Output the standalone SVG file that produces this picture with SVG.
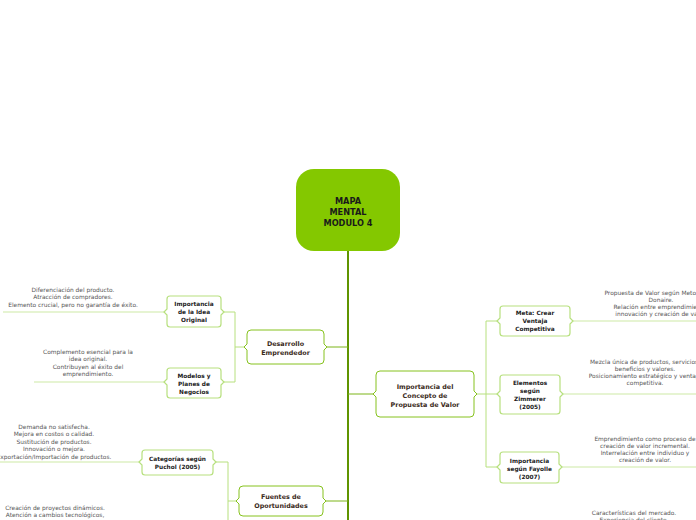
<svg xmlns="http://www.w3.org/2000/svg" width="696" height="520" viewBox="0 0 696 520">
<style>
.t{font-family:"DejaVu Sans",Verdana,sans-serif;font-weight:bold;fill:#1a1a1a;text-anchor:middle}
.t1{font-size:6.4px;fill:#3a2a1a}
.t2{font-size:5.8px}
.lf{font-family:"DejaVu Sans",Verdana,sans-serif;font-size:5.9px;fill:#555;text-anchor:middle}
.n{fill:#fff;stroke:#b7e07e;stroke-width:1.2}
.n1{fill:#fff;stroke:#86c21e;stroke-width:1}
.c0{fill:none;stroke:#5f9400;stroke-width:2}
.c1{fill:none;stroke:#7cb519;stroke-width:1}
.c2{fill:none;stroke:#b7e07e;stroke-width:1}
.c3{fill:none;stroke:#cde9a6;stroke-width:1.2}
</style>
<rect width="696" height="520" fill="#fff"/>
<g id="connectors">
<path class="c0" d="M348,251V520"/>
<path class="c1" d="M348,347H327M348,394H373M348,501H326"/>
<path class="c2" d="M244,347H235M235,312V382M235,312H224M235,382H224"/>
<path class="c2" d="M236,501H228M228,462V520M228,462H216"/>
<path class="c2" d="M477,394H486M486,321V467M486,321H497M486,394H497M486,467H497"/>
<path class="c3" d="M164,312H3M164,382H34M139,462H0M573,321H696M563,394H696M562,467H696"/>
</g>
<g id="root">
<rect x="296" y="169" width="104" height="82" rx="18" fill="#84c800"/>
<text class="t" font-size="8.2" x="348" y="204">MAPA</text>
<text class="t" font-size="8.2" x="348" y="215">MENTAL</text>
<text class="t" font-size="8.2" x="348" y="226">MODULO 4</text>
</g>
<g id="desarrollo">
<path class="n1" d="M251,330H320Q324,330 324,334V344L327,347L324,350V360Q324,364 320,364H251Q247,364 247,360V350L244,347L247,344V334Q247,330 251,330Z"/>
<text class="t t1" x="285.5" y="346">Desarrollo</text>
<text class="t t1" x="285.5" y="355">Emprendedor</text>
</g>
<g id="propuesta">
<path class="n1" d="M380,371H470Q474,371 474,375V391L477,394L474,397V413Q474,417 470,417H380Q376,417 376,413V397L373,394L376,391V375Q376,371 380,371Z"/>
<text class="t t1" x="425" y="389">Importancia del</text>
<text class="t t1" x="425" y="398">Concepto de</text>
<text class="t t1" x="425" y="407">Propuesta de Valor</text>
</g>
<g id="fuentes">
<path class="n1" d="M243,486H319Q323,486 323,490V498L326,501L323,504V512Q323,516 319,516H243Q239,516 239,512V504L236,501L239,498V490Q239,486 243,486Z"/>
<text class="t t1" x="281" y="499">Fuentes de</text>
<text class="t t1" x="281" y="508">Oportunidades</text>
</g>
<g id="idea">
<path class="n" d="M170,296H218Q221,296 221,299V309L224,312L221,315V324Q221,327 218,327H170Q167,327 167,324V315L164,312L167,309V299Q167,296 170,296Z"/>
<text class="t t2" x="194" y="306">Importancia</text>
<text class="t t2" x="194" y="314">de la Idea</text>
<text class="t t2" x="194" y="322">Original</text>
<text class="lf" x="73" y="291.5">Diferenciación del producto.</text>
<text class="lf" x="73" y="299">Atracción de compradores.</text>
<text class="lf" x="73" y="306.5">Elemento crucial, pero no garantía de éxito.</text>
</g>
<g id="modelos">
<path class="n" d="M170,368H218Q221,368 221,371V379L224,382L221,385V395Q221,398 218,398H170Q167,398 167,395V385L164,382L167,379V371Q167,368 170,368Z"/>
<text class="t t2" x="194" y="378">Modelos y</text>
<text class="t t2" x="194" y="386">Planes de</text>
<text class="t t2" x="194" y="394">Negocios</text>
<text class="lf" x="88" y="354">Complemento esencial para la</text>
<text class="lf" x="88" y="361">idea original.</text>
<text class="lf" x="88" y="368.5">Contribuyen al éxito del</text>
<text class="lf" x="88" y="375.5">emprendimiento.</text>
</g>
<g id="puchol">
<path class="n" d="M145,450H210Q213,450 213,453V459L216,462L213,465V472Q213,475 210,475H145Q142,475 142,472V465L139,462L142,459V453Q142,450 145,450Z"/>
<text class="t t2" x="177.5" y="461">Categorías según</text>
<text class="t t2" x="177.5" y="469">Puchol (2005)</text>
<text class="lf" x="54" y="428.5">Demanda no satisfecha.</text>
<text class="lf" x="54" y="436">Mejora en costos o calidad.</text>
<text class="lf" x="54" y="443.5">Sustitución de productos.</text>
<text class="lf" x="54" y="451">Innovación o mejora.</text>
<text class="lf" x="54" y="458.5">Exportación/Importación de productos.</text>
</g>
<g id="fuentes2">
<text class="lf" x="55" y="509.5">Creación de proyectos dinámicos.</text>
<text class="lf" x="55" y="517">Atención a cambios tecnológicos,</text>
</g>
<g id="meta">
<path class="n" d="M503,306H567Q570,306 570,309V318L573,321L570,324V333Q570,336 567,336H503Q500,336 500,333V324L497,321L500,318V309Q500,306 503,306Z"/>
<text class="t t2" x="535" y="315">Meta: Crear</text>
<text class="t t2" x="535" y="323">Ventaja</text>
<text class="t t2" x="535" y="331">Competitiva</text>
<text class="lf" x="661" y="294.5">Propuesta de Valor según Metodología</text>
<text class="lf" x="661" y="301.5">Donaire.</text>
<text class="lf" x="661" y="309">Relación entre emprendimiento,</text>
<text class="lf" x="661" y="316">innovación y creación de valor.</text>
</g>
<g id="zimmerer">
<path class="n" d="M503,375H557Q560,375 560,378V391L563,394L560,397V411Q560,414 557,414H503Q500,414 500,411V397L497,394L500,391V378Q500,375 503,375Z"/>
<text class="t t2" x="530" y="385">Elementos</text>
<text class="t t2" x="530" y="393">según</text>
<text class="t t2" x="530" y="401">Zimmerer</text>
<text class="t t2" x="530" y="409">(2005)</text>
<text class="lf" x="645" y="363.5">Mezcla única de productos, servicios,</text>
<text class="lf" x="645" y="370.5">beneficios y valores.</text>
<text class="lf" x="645" y="378">Posicionamiento estratégico y ventaja</text>
<text class="lf" x="645" y="385">competitiva.</text>
</g>
<g id="fayolle">
<path class="n" d="M503,452H556Q559,452 559,455V464L562,467L559,470V480Q559,483 556,483H503Q500,483 500,480V470L497,467L500,464V455Q500,452 503,452Z"/>
<text class="t t2" x="529.5" y="463">Importancia</text>
<text class="t t2" x="529.5" y="471">según Fayolle</text>
<text class="t t2" x="529.5" y="479">(2007)</text>
<text class="lf" x="645" y="440.5">Emprendimiento como proceso de</text>
<text class="lf" x="645" y="447.5">creación de valor incremental.</text>
<text class="lf" x="645" y="455">Interrelación entre individuo y</text>
<text class="lf" x="645" y="462">creación de valor.</text>
</g>
<g id="mercado">
<text class="lf" x="634" y="514.5">Características del mercado.</text>
<text class="lf" x="634" y="521.5">Experiencia del cliente.</text>
</g>
</svg>
